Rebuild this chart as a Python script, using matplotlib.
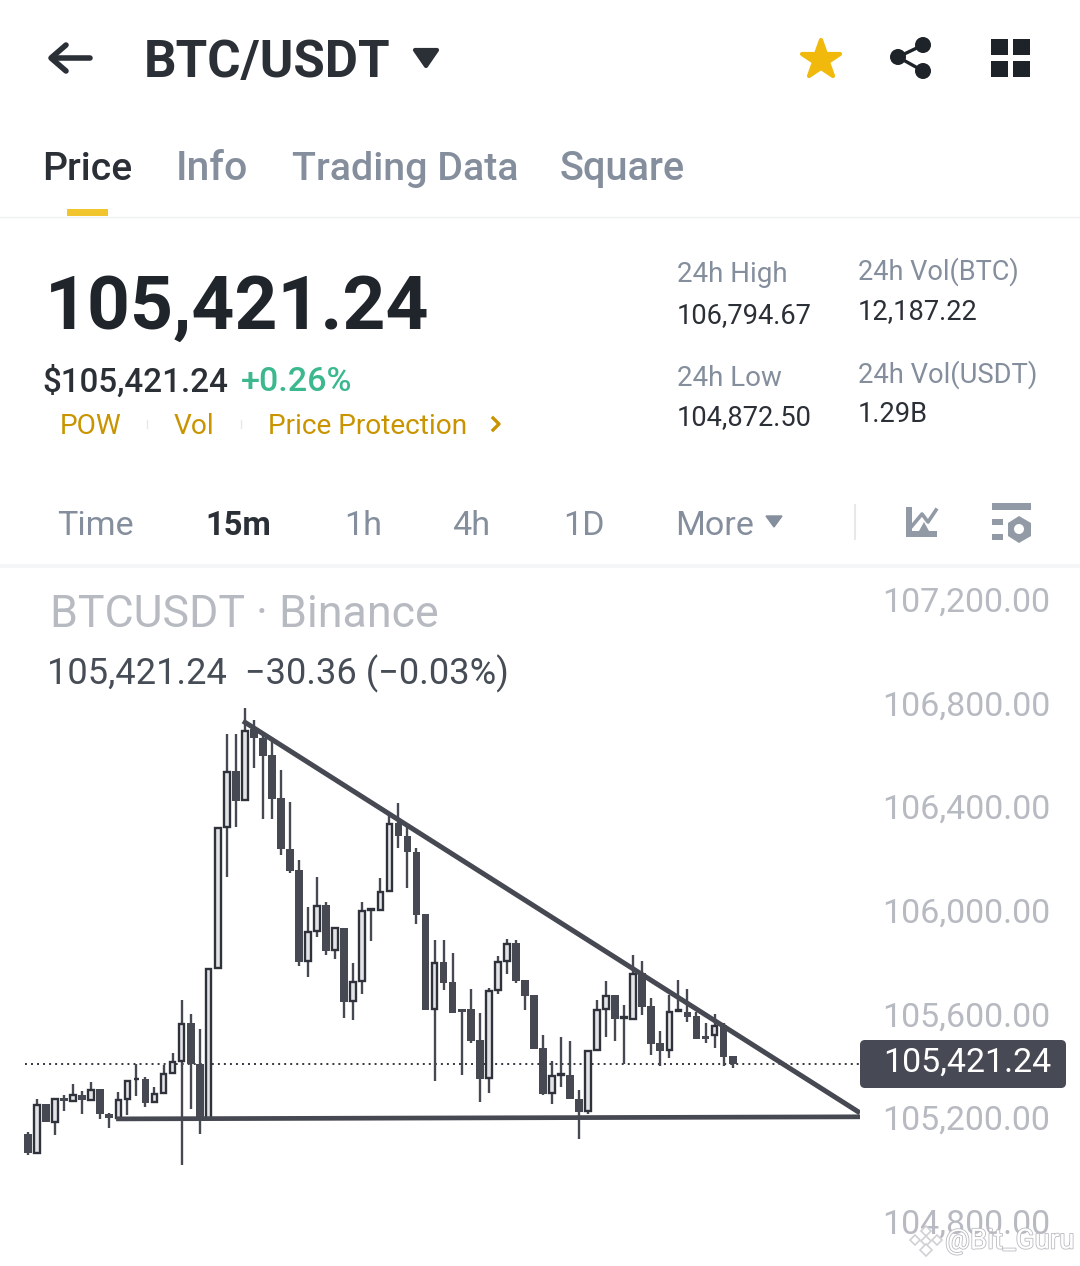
import matplotlib
matplotlib.use("Agg")
import matplotlib.pyplot as plt
import matplotlib.patheffects as pe
from matplotlib.markers import MarkerStyle
from matplotlib.patches import Rectangle, Circle, Polygon, FancyBboxPatch
from matplotlib.ticker import FuncFormatter

plt.rcParams['font.family'] = ['Roboto', 'DejaVu Sans']

# candles (price)
opens = [105135, 105061, 105250, 105181, 105273, 105263, 105285, 105267, 105308, 105212,
         105196, 105271, 105347, 105347, 105259, 105294, 105371, 105417, 105563, 105406,
         105192, 105775, 106320, 106535, 106423, 106697, 106662, 106597, 106431, 106234,
         106154, 105803, 105919, 106018, 105844, 105931, 105649, 105726, 106000, 106000,
         106073, 106337, 106284, 106223, 105983, 105617, 105798, 105721, 105617, 105617,
         105497, 105352, 105691, 105803, 105871, 105729, 105671, 105466, 105294, 105362,
         105362, 105272, 105223, 105458, 105617, 105671, 105582, 105578, 105755, 105628,
         105485, 105458, 105609, 105605, 105590, 105515, 105517, 105555, 105436]
closes = [105061, 105249, 105181, 105272, 105262, 105287, 105266, 105307, 105212, 105196,
          105268, 105341, 105349, 105257, 105291, 105368, 105415, 105561, 105404, 105192,
          105773, 106317, 106534, 106422, 106692, 106662, 106595, 106429, 106234, 106152,
          105801, 105916, 106017, 105843, 105929, 105646, 105724, 105997, 106003, 106071,
          106333, 106284, 106223, 105982, 105616, 105797, 105720, 105604, 105605, 105495,
          105349, 105689, 105801, 105870, 105725, 105670, 105465, 105290, 105361, 105366,
          105272, 105220, 105457, 105615, 105669, 105581, 105586, 105754, 105627, 105484,
          105457, 105608, 105613, 105588, 105503, 105503, 105553, 105433, 105404]
highs = [105142, 105272, 105250, 105272, 105285, 105329, 105300, 105336, 105308, 105215,
         105296, 105341, 105407, 105357, 105316, 105403, 105447, 105651, 105597, 105539,
         105773, 106317, 106679, 106679, 106778, 106733, 106681, 106656, 106540, 106418,
         106193, 106010, 106126, 106030, 105936, 105931, 105796, 106032, 106003, 106122,
         106367, 106412, 106322, 106238, 105983, 105884, 105884, 105833, 105617, 105694,
         105601, 105698, 105823, 105887, 105884, 105729, 105671, 105516, 105416, 105509,
         105494, 105305, 105457, 105653, 105726, 105671, 105633, 105826, 105803, 105659,
         105533, 105672, 105728, 105694, 105608, 105563, 105599, 105565, 105436]
lows = [105053, 105061, 105181, 105133, 105226, 105263, 105214, 105267, 105192, 105160,
        105196, 105210, 105284, 105241, 105259, 105294, 105371, 105017, 105233, 105137,
        105192, 105775, 106128, 106321, 106423, 106549, 106350, 106350, 106212, 106144,
        105785, 105743, 105897, 105828, 105812, 105583, 105577, 105677, 105882, 106000,
        106073, 106241, 106086, 105947, 105616, 105342, 105690, 105604, 105365, 105488,
        105261, 105295, 105675, 105753, 105720, 105616, 105465, 105288, 105253, 105318,
        105272, 105118, 105213, 105458, 105511, 105496, 105406, 105578, 105596, 105442,
        105400, 105429, 105609, 105569, 105503, 105488, 105469, 105400, 105391]

price_ticks = [107200, 106800, 106400, 106000, 105600, 105200, 104800]
last_price = 105421.24
last_line_level = 105406  # the dotted line sits a little under the printed price
resistance_x = [23.8, 92.1]
resistance_y = [106729, 105217]
support_x = [9.75, 92.1]
support_y = [105194, 105202]

DARK = '#1e2329'
GREY = '#848e9c'
AXIS_GREY = '#b7bac1'
CANDLE = '#464852'
LIGHT_BODY = '#e2e3e7'
GOLD = '#c99400'
W, H = 1080, 1266

fig = plt.figure(figsize=(W / 100, H / 100), dpi=100, facecolor='white')

# page furniture, in pixel coordinates
ui = fig.add_axes([0, 0, 1, 1])
ui.set_xlim(0, W)
ui.set_ylim(H, 0)
ui.axis('off')


def label(x, y, s, size, color=DARK, weight='normal', **kw):
    ui.text(x, y, s, fontsize=size, color=color, fontweight=weight, va='center', ha='left', **kw)


# header
ui.plot([52, 90], [58, 58], color='#2b2f36', lw=4, solid_capstyle='round')
ui.plot([66, 51, 66], [45, 58, 71], color='#2b2f36', lw=4, solid_capstyle='round', solid_joinstyle='round')
label(144, 63, 'BTC/USDT', 36.8, color='#2b2f36', weight='bold')
ui.add_patch(Polygon([(415, 50), (437, 50), (426, 66)], closed=True, fc='#2b2f36', ec='#2b2f36', lw=3, joinstyle='round'))
ui.plot([821], [60], marker=MarkerStyle('*', joinstyle='round'), ms=29, color='#f0b90b', mec='#f0b90b', mew=3)
for cx, cy in [(923, 45), (898, 57), (923, 71)]:
    ui.add_patch(Circle((cx, cy), 8, fc=DARK, ec='none'))
ui.plot([923, 898, 923], [45, 57, 71], color=DARK, lw=2.4)
for sx, sy in [(991, 39), (1013, 39), (991, 61), (1013, 61)]:
    ui.add_patch(Rectangle((sx, sy), 17, 16, fc=DARK, ec='none'))

# tabs
label(42, 169, 'Price', 28.2, color='#2b2f36', weight='medium')
label(176, 169, 'Info', 29.5, color=GREY, weight='medium')
label(292, 169, 'Trading Data', 28.4, color=GREY, weight='medium')
label(560, 169, 'Square', 28.6, color=GREY, weight='medium')
ui.add_patch(Rectangle((67, 209), 41, 7, fc='#f0c52e', ec='none'))
ui.plot([0, W], [216.5, 216.5], color='#eef0f2', lw=1)

# price block
label(45, 309, '105,421.24', 54, color='#20242b', weight='bold')
label(42, 382, '$105,421.24', 23.9, color='#2b2f36', weight='medium')
label(241, 382, '+0.26%', 24.5, color='#3cb88f', weight='medium')
label(60, 426, 'POW', 20.2, color=GOLD)
label(174, 426, 'Vol', 20.2, color=GOLD)
label(268, 426, 'Price Protection', 20.2, color=GOLD)
ui.plot([147, 147], [420, 428], color='#e6e8ea', lw=1)
ui.plot([241, 241], [420, 428], color='#e6e8ea', lw=1)
ui.plot([493, 499, 493], [418, 424, 430], color=GOLD, lw=2.4)

label(677, 275, '24h High', 20, color=GREY)
label(677, 316, '106,794.67', 19.6, color='#2b2f36')
label(858, 272, '24h Vol(BTC)', 19.5, color=GREY)
label(858, 312, '12,187.22', 19.6, color='#2b2f36')
label(677, 378, '24h Low', 20, color=GREY)
label(677, 418, '104,872.50', 19.6, color='#2b2f36')
label(858, 375, '24h Vol(USDT)', 19.7, color=GREY)
label(858, 415, '1.29B', 19.6, color='#2b2f36')

# interval bar
label(57, 526, 'Time', 24.6, color=GREY)
label(205, 526, '15m', 23.6, color='#2b2f36', weight='bold')
label(344, 526, '1h', 24.6, color=GREY)
label(452, 526, '4h', 24.6, color=GREY)
label(563, 526, '1D', 24.6, color=GREY)
label(675, 526, 'More', 24.6, color=GREY)
ui.add_patch(Polygon([(766, 516), (782, 516), (774, 527)], closed=True, fc=GREY, ec=GREY, lw=1))
ui.plot([855, 855], [505, 539], color='#e6e8ea', lw=1.5)
ICON = '#929aa5'
ui.add_patch(Rectangle((906, 507), 6, 30, fc=ICON, ec='none'))
ui.add_patch(Rectangle((906, 531), 31, 6, fc=ICON, ec='none'))
ui.plot([912, 922, 928, 936], [526, 514, 522, 510], color=ICON, lw=2.6)
ui.add_patch(Polygon([(919, 531), (924, 522), (929, 531)], closed=True, fc=ICON, ec='none'))
ui.add_patch(Rectangle((992, 503), 39, 7, fc=ICON, ec='none'))
ui.add_patch(Rectangle((992, 519), 11, 6, fc=ICON, ec='none'))
ui.add_patch(Rectangle((992, 534), 11, 6, fc=ICON, ec='none'))
ui.add_patch(Polygon([(1019, 516), (1031, 523), (1031, 536), (1019, 543), (1008, 536), (1008, 523)],
                     closed=True, fc=ICON, ec='none'))
ui.add_patch(Circle((1019, 529), 5, fc='white', ec='none'))
ui.add_patch(Rectangle((0, 564), W, 4, fc='#f5f6f7', ec='none'))

# chart legend text
label(50, 615, 'BTCUSDT · Binance', 32.2, color=AXIS_GREY)
label(47, 674, '105,421.24  \u221230.36 (\u22120.03%)', 26.1, color='#474d57')

# chart
left, right, top, bottom = 19, 860, 599, 1221
ax = fig.add_axes([left / W, 1 - bottom / H, (right - left) / W, (bottom - top) / H])
ax.patch.set_alpha(0)
ax.set_xlim(-1, 92.1)
ax.set_ylim(104800, 107200)
for s in ax.spines.values():
    s.set_visible(False)
ax.set_xticks([])
ax.set_yticks(price_ticks)
ax.yaxis.set_major_formatter(FuncFormatter(lambda v, _: f'{v:,.2f}'))
ax.tick_params(axis='y', length=0, labelleft=False, labelright=True, pad=16.3, labelsize=24.5, labelcolor=AXIS_GREY)

ax.axhline(last_line_level, xmin=0.007, color='#33363d', lw=1.4, dashes=(1, 2.1), zorder=1)

for i, (o, c, h, l) in enumerate(zip(opens, closes, highs, lows)):
    ax.vlines(i, l, h, color=CANDLE, lw=1.7, zorder=2)
    low_body, high_body = min(o, c), max(o, c)
    if c >= o:
        ax.bar(i, high_body - low_body, bottom=low_body, width=0.62, facecolor=LIGHT_BODY,
               edgecolor='#2f323a', linewidth=1.7, zorder=3)
    else:
        ax.bar(i, high_body - low_body, bottom=low_body, width=0.86, color=CANDLE, zorder=3)

ax.plot(resistance_x, resistance_y, color=CANDLE, lw=3.6, solid_capstyle='butt', zorder=4)
ax.plot(support_x, support_y, color=CANDLE, lw=3.4, solid_capstyle='butt', zorder=4)

# last price tag
tag = fig.add_axes([0, 0, 1, 1])
tag.set_xlim(0, W)
tag.set_ylim(H, 0)
tag.axis('off')
tag.patch.set_alpha(0)
tag.add_patch(FancyBboxPatch((860, 1040), 206, 48, boxstyle='round,pad=0,rounding_size=5',
                             fc='#474954', ec='none'))
tag.text(883, 1063, f'{last_price:,.2f}', fontsize=24.5, color='white', va='center', ha='left')

# watermark
wm_stroke = '#cfd1d4'
for cx, cy, r in [(926, 1231, 5), (915, 1240, 5), (937, 1240, 5), (926, 1241, 5), (926, 1250, 6)]:
    tag.add_patch(Polygon([(cx, cy - r), (cx + r, cy), (cx, cy + r), (cx - r, cy)], closed=True,
                          fc='white', ec=wm_stroke, lw=1.2))
tag.text(945, 1241, '@Bit_Guru', fontsize=20, color='white', va='center', ha='left',
         path_effects=[pe.withStroke(linewidth=1.2, foreground='#b9bbbf')])

fig.savefig('out.png', dpi=100)
